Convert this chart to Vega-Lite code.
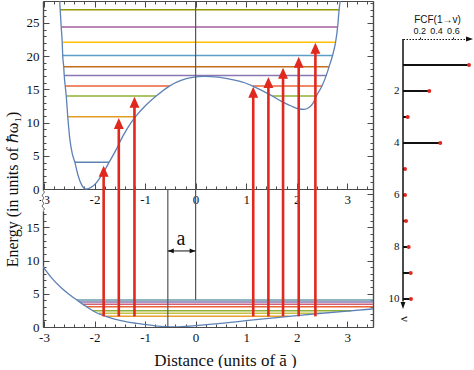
{
  "$schema": "https://vega.github.io/schema/vega-lite/v6.json",
  "background": "white",
  "padding": {"left": 4, "top": 0, "right": 0, "bottom": 0},
  "bounds": "flush",
  "spacing": 30,
  "config": {
    "view": {"stroke": null},
    "axis": {
      "grid": false,
      "domainColor": "#4a4a4a",
      "tickColor": "#4a4a4a",
      "domainWidth": 1.2,
      "tickWidth": 1,
      "labelFont": "Liberation Serif",
      "labelFontSize": 13,
      "labelColor": "#111111",
      "titleFont": "Liberation Serif",
      "titleFontWeight": "normal",
      "titleColor": "#111111",
      "labelFlush": false,
      "labelOverlap": false
    }
  },
  "datasets": {
    "upperCurve": [
      {"x": -2.69, "e": 28.3}, {"x": -2.68, "e": 27.0}, {"x": -2.66, "e": 24.4}, {"x": -2.64, "e": 22.1},
      {"x": -2.63, "e": 20.1}, {"x": -2.61, "e": 18.4}, {"x": -2.6, "e": 17.1}, {"x": -2.58, "e": 15.5},
      {"x": -2.56, "e": 14.0}, {"x": -2.53, "e": 10.9}, {"x": -2.49, "e": 7.6}, {"x": -2.44, "e": 5.3},
      {"x": -2.39, "e": 4.05}, {"x": -2.33, "e": 2.15}, {"x": -2.25, "e": 0.55}, {"x": -2.17, "e": 0.0},
      {"x": -2.07, "e": 0.25}, {"x": -1.97, "e": 0.9}, {"x": -1.87, "e": 1.95}, {"x": -1.71, "e": 4.05},
      {"x": -1.57, "e": 5.97}, {"x": -1.44, "e": 7.97}, {"x": -1.28, "e": 9.98}, {"x": -1.18, "e": 10.98},
      {"x": -1.0, "e": 12.5}, {"x": -0.78, "e": 14.0}, {"x": -0.52, "e": 15.5}, {"x": -0.29, "e": 16.35},
      {"x": -0.06, "e": 16.8}, {"x": 0.17, "e": 16.95}, {"x": 0.44, "e": 16.85}, {"x": 0.7, "e": 16.5},
      {"x": 0.97, "e": 16.0}, {"x": 1.13, "e": 15.5}, {"x": 1.46, "e": 14.25}, {"x": 1.69, "e": 13.24},
      {"x": 1.89, "e": 12.5}, {"x": 2.05, "e": 12.05}, {"x": 2.15, "e": 12.0}, {"x": 2.25, "e": 12.3},
      {"x": 2.33, "e": 13.0}, {"x": 2.39, "e": 14.0}, {"x": 2.5, "e": 15.5}, {"x": 2.58, "e": 17.0},
      {"x": 2.64, "e": 18.4}, {"x": 2.71, "e": 20.1}, {"x": 2.77, "e": 22.1}, {"x": 2.81, "e": 24.4},
      {"x": 2.84, "e": 27.0}, {"x": 2.86, "e": 28.3}
    ],
    "lowerCurve": [
      {"x": -3.02, "e": 9.1}, {"x": -2.85, "e": 7.4}, {"x": -2.66, "e": 5.9}, {"x": -2.5, "e": 4.9},
      {"x": -2.33, "e": 3.95}, {"x": -2.15, "e": 3.0}, {"x": -2.0, "e": 2.3}, {"x": -1.83, "e": 1.75},
      {"x": -1.67, "e": 1.35}, {"x": -1.5, "e": 1.0}, {"x": -1.34, "e": 0.75}, {"x": -1.17, "e": 0.55},
      {"x": -1.0, "e": 0.38}, {"x": -0.8, "e": 0.18}, {"x": -0.6, "e": 0.05}, {"x": -0.45, "e": 0.0},
      {"x": -0.2, "e": 0.08}, {"x": 0.0, "e": 0.2}, {"x": 0.5, "e": 0.55}, {"x": 1.0, "e": 0.95},
      {"x": 1.5, "e": 1.35}, {"x": 2.0, "e": 1.72}, {"x": 2.5, "e": 2.07}, {"x": 3.0, "e": 2.4},
      {"x": 3.51, "e": 2.72}
    ],
    "upperLevels": [
      {"n": 1, "e": 4.05, "x1": -2.39, "x2": -1.71},
      {"n": 2, "e": 10.9, "x1": -2.53, "x2": -1.19},
      {"n": 3, "e": 14.0, "x1": -2.56, "x2": -0.78},
      {"n": 3, "e": 14.0, "x1": 1.52, "x2": 2.39},
      {"n": 4, "e": 15.5, "x1": -2.58, "x2": -0.52},
      {"n": 4, "e": 15.5, "x1": 1.13, "x2": 2.5},
      {"n": 5, "e": 17.1, "x1": -2.6, "x2": 2.59},
      {"n": 6, "e": 18.4, "x1": -2.61, "x2": 2.64},
      {"n": 7, "e": 20.1, "x1": -2.63, "x2": 2.71},
      {"n": 8, "e": 22.1, "x1": -2.64, "x2": 2.77},
      {"n": 9, "e": 24.4, "x1": -2.66, "x2": 2.81},
      {"n": 10, "e": 27.0, "x1": -2.68, "x2": 2.84}
    ],
    "lowerLevels": [
      {"n": 1, "e": 1.6, "x1": -1.77, "x2": 1.84},
      {"n": 2, "e": 2.06, "x1": -1.92, "x2": 2.49},
      {"n": 3, "e": 2.45, "x1": -2.03, "x2": 3.08},
      {"n": 4, "e": 3.05, "x1": -2.16, "x2": 3.51},
      {"n": 5, "e": 3.41, "x1": -2.23, "x2": 3.51},
      {"n": 6, "e": 3.76, "x1": -2.29, "x2": 3.51},
      {"n": 7, "e": 4.06, "x1": -2.35, "x2": 3.51}
    ],
    "arrows": [
      {"x": -1.82, "e0": 1.6, "e1": 3.5},
      {"x": -1.52, "e0": 1.6, "e1": 10.7},
      {"x": -1.21, "e0": 1.6, "e1": 13.9},
      {"x": 1.14, "e0": 1.6, "e1": 15.4},
      {"x": 1.44, "e0": 1.6, "e1": 16.85},
      {"x": 1.73, "e0": 1.6, "e1": 18.25},
      {"x": 2.04, "e0": 1.6, "e1": 19.9},
      {"x": 2.37, "e0": 1.6, "e1": 22.0}
    ],
    "squiggle": [
      {"k": 0, "x": -3.02, "e": 20.6}, {"k": 1, "x": -2.975, "e": 20.2}, {"k": 2, "x": -3.065, "e": 19.8},
      {"k": 3, "x": -2.975, "e": 19.4}, {"k": 4, "x": -3.065, "e": 19.0}, {"k": 5, "x": -2.975, "e": 18.6},
      {"k": 6, "x": -3.065, "e": 18.2}, {"k": 7, "x": -2.975, "e": 17.8}, {"k": 8, "x": -3.02, "e": 17.5}
    ],
    "fcf": [
      {"v": 1, "f": 0.786}, {"v": 2, "f": 0.313}, {"v": 3, "f": 0.056}, {"v": 4, "f": 0.444},
      {"v": 5, "f": 0.024}, {"v": 6, "f": 0.024}, {"v": 7, "f": 0.036}, {"v": 8, "f": 0.068},
      {"v": 9, "f": 0.092}, {"v": 10, "f": 0.095}
    ],
    "fcfTicks": [{"t": 0.2}, {"t": 0.4}, {"t": 0.6}]
  },
  "hconcat": [
    {
      "width": 330,
      "height": 326,
      "resolve": {"scale": {"y": "independent", "color": "independent"}, "axis": {"x": "independent", "y": "independent"}},
      "layer": [
        {
          "data": {"name": "upperLevels"},
          "mark": {"type": "rule", "strokeWidth": 1.5},
          "encoding": {
            "x": {"field": "x1", "type": "quantitative", "scale": {"domain": [-3.02, 3.51], "nice": false, "zero": false},
              "axis": {"orient": "top", "values": [-3,-2.8,-2.6,-2.4,-2.2,-2,-1.8,-1.6,-1.4,-1.2,-1,-0.8,-0.6,-0.4,-0.2,0,0.2,0.4,0.6,0.8,1,1.2,1.4,1.6,1.8,2,2.2,2.4,2.6,2.8,3,3.2,3.4],
                "labels": false, "title": null,
                "tickSize": {"condition": {"test": "abs(datum.value-round(datum.value))<0.01", "value": -6}, "value": -3}}},
            "x2": {"field": "x2"},
            "y": {"field": "e", "type": "quantitative", "scale": {"domain": [-20.75, 28.3], "nice": false, "zero": false},
              "axis": {"orient": "right", "values": [0,1,2,3,4,5,6,7,8,9,10,11,12,13,14,15,16,17,18,19,20,21,22,23,24,25,26,27,28],
                "labels": false, "title": null,
                "tickSize": {"condition": {"test": "datum.value % 5 == 0", "value": -6}, "value": -3}}},
            "color": {"field": "n", "type": "ordinal", "legend": null,
              "scale": {"domain": [1,2,3,4,5,6,7,8,9,10], "range": ["#5E81B5","#E19C24","#8FB032","#EB6235","#8778B3","#C56E1A","#5D9EC7","#FFBF00","#A5609D","#929600"]}}
          }
        },
        {
          "data": {"name": "lowerLevels"},
          "mark": {"type": "rule", "strokeWidth": 1.5},
          "encoding": {
            "x": {"field": "x1", "type": "quantitative", "scale": {"domain": [-3.02, 3.51], "nice": false, "zero": false}, "axis": null},
            "x2": {"field": "x2"},
            "y": {"field": "e", "type": "quantitative", "scale": {"domain": [0, 49.05], "nice": false, "zero": false},
              "axis": {"orient": "right", "values": [0,1,2,3,4,5,6,7,8,9,10,11,12,13,14,15,16,17,18,19,20],
                "labels": false, "title": null,
                "tickSize": {"condition": {"test": "datum.value % 5 == 0", "value": -6}, "value": -3}}},
            "color": {"field": "n", "type": "ordinal", "legend": null,
              "scale": {"domain": [1,2,3,4,5,6,7], "range": ["#E8A030","#C8C040","#8FB032","#EB6235","#D0607A","#8778B3","#6A9CAA"]}}
          }
        },
        {
          "data": {"name": "upperCurve"},
          "mark": {"type": "line", "color": "#5E81B5", "strokeWidth": 1.3, "interpolate": "monotone", "clip": true},
          "encoding": {
            "x": {"field": "x", "type": "quantitative", "scale": {"domain": [-3.02, 3.51], "nice": false, "zero": false},
              "axis": {"orient": "bottom", "values": [-3,-2.8,-2.6,-2.4,-2.2,-2,-1.8,-1.6,-1.4,-1.2,-1,-0.8,-0.6,-0.4,-0.2,0,0.2,0.4,0.6,0.8,1,1.2,1.4,1.6,1.8,2,2.2,2.4,2.6,2.8,3,3.2,3.4],
                "labelExpr": "abs(datum.value-round(datum.value))<0.01 ? (datum.value<0 ? '-'+format(-datum.value,'d') : format(datum.value,'d')) : ''",
                "tickSize": {"condition": {"test": "abs(datum.value-round(datum.value))<0.01", "value": -6}, "value": -3},
                "labelPadding": 10,
                "title": "Distance (units of  ā )", "titleFontSize": 17, "titleX": 182, "titlePadding": 5}},
            "y": {"field": "e", "type": "quantitative", "scale": {"domain": [-20.75, 28.3], "nice": false, "zero": false},
              "axis": {"orient": "left", "values": [0,1,2,3,4,5,6,7,8,9,10,11,12,13,14,15,16,17,18,19,20,21,22,23,24,25,26,27],
                "labelExpr": "datum.value % 5 == 0 ? datum.label : ''",
                "tickSize": {"condition": {"test": "datum.value % 5 == 0", "value": -6}, "value": -3},
                "labelPadding": 10,
                "title": "Energy (in units of ℏω₁)", "titleFontSize": 16, "titleY": 188, "titlePadding": 6}}
          }
        },
        {
          "data": {"name": "lowerCurve"},
          "mark": {"type": "line", "color": "#5E81B5", "strokeWidth": 1.3, "interpolate": "monotone", "clip": true},
          "encoding": {
            "x": {"field": "x", "type": "quantitative", "scale": {"domain": [-3.02, 3.51], "nice": false, "zero": false},
              "axis": {"orient": "bottom", "offset": -138, "values": [-3,-2.8,-2.6,-2.4,-2.2,-2,-1.8,-1.6,-1.4,-1.2,-1,-0.8,-0.6,-0.4,-0.2,0,0.2,0.4,0.6,0.8,1,1.2,1.4,1.6,1.8,2,2.2,2.4,2.6,2.8,3,3.2,3.4],
                "labelExpr": "abs(datum.value-round(datum.value))<0.01 ? (datum.value<0 ? '-'+format(-datum.value,'d') : format(datum.value,'d')) : ''",
                "tickSize": {"condition": {"test": "abs(datum.value-round(datum.value))<0.01", "value": -6}, "value": -3},
                "labelPadding": 10, "title": null}},
            "y": {"field": "e", "type": "quantitative", "scale": {"domain": [0, 49.05], "nice": false, "zero": false},
              "axis": {"orient": "left", "values": [0,1,2,3,4,5,6,7,8,9,10,11,12,13,14,15,16,17],
                "labelExpr": "datum.value % 5 == 0 ? datum.label : ''",
                "tickSize": {"condition": {"test": "datum.value % 5 == 0", "value": -6}, "value": -3},
                "labelPadding": 10, "title": null}}
          }
        },
        {
          "data": {"values": [{}]},
          "mark": {"type": "rule", "color": "#555555", "strokeWidth": 1.2},
          "encoding": {
            "x": {"datum": 0, "type": "quantitative", "scale": {"domain": [-3.02, 3.51], "nice": false, "zero": false}, "axis": null},
            "y": {"datum": 0, "type": "quantitative", "scale": {"domain": [-20.75, 28.3], "nice": false, "zero": false}, "axis": null},
            "y2": {"datum": 28.3}
          }
        },
        {
          "data": {"values": [{}]},
          "mark": {"type": "rule", "color": "#555555", "strokeWidth": 1.2},
          "encoding": {
            "x": {"datum": 0, "type": "quantitative", "scale": {"domain": [-3.02, 3.51], "nice": false, "zero": false}, "axis": null},
            "y": {"datum": 4.06, "type": "quantitative", "scale": {"domain": [0, 49.05], "nice": false, "zero": false}, "axis": null},
            "y2": {"datum": 20.75}
          }
        },
        {
          "data": {"values": [{}]},
          "mark": {"type": "rule", "color": "#555555", "strokeWidth": 1.2},
          "encoding": {
            "x": {"datum": -0.55, "type": "quantitative", "scale": {"domain": [-3.02, 3.51], "nice": false, "zero": false}, "axis": null},
            "y": {"datum": 0, "type": "quantitative", "scale": {"domain": [0, 49.05], "nice": false, "zero": false}, "axis": null},
            "y2": {"datum": 20.75}
          }
        },
        {
          "data": {"name": "arrows"},
          "mark": {"type": "rule", "color": "#E0281E", "strokeWidth": 2.6},
          "encoding": {
            "x": {"field": "x", "type": "quantitative", "scale": {"domain": [-3.02, 3.51], "nice": false, "zero": false}, "axis": null},
            "y": {"field": "e0", "type": "quantitative", "scale": {"domain": [0, 49.05], "nice": false, "zero": false}, "axis": null},
            "y2": {"datum": 20.75}
          }
        },
        {
          "data": {"name": "arrows"},
          "mark": {"type": "rule", "color": "#E0281E", "strokeWidth": 2.6, "yOffset": 5},
          "encoding": {
            "x": {"field": "x", "type": "quantitative", "scale": {"domain": [-3.02, 3.51], "nice": false, "zero": false}, "axis": null},
            "y": {"field": "e1", "type": "quantitative", "scale": {"domain": [-20.75, 28.3], "nice": false, "zero": false}, "axis": null},
            "y2": {"datum": 0}
          }
        },
        {
          "data": {"name": "arrows"},
          "mark": {"type": "point", "shape": "M0,0L0.9,2L-0.9,2Z", "size": 121, "filled": true, "color": "#E0281E", "opacity": 1, "strokeWidth": 0},
          "encoding": {
            "x": {"field": "x", "type": "quantitative", "scale": {"domain": [-3.02, 3.51], "nice": false, "zero": false}, "axis": null},
            "y": {"field": "e1", "type": "quantitative", "scale": {"domain": [-20.75, 28.3], "nice": false, "zero": false}, "axis": null}
          }
        },
        {
          "data": {"values": [{}]},
          "mark": {"type": "rule", "color": "#111111", "strokeWidth": 1},
          "encoding": {
            "x": {"datum": -0.55, "type": "quantitative", "scale": {"domain": [-3.02, 3.51], "nice": false, "zero": false}, "axis": null},
            "x2": {"datum": 0},
            "y": {"datum": 11.44, "type": "quantitative", "scale": {"domain": [0, 49.05], "nice": false, "zero": false}, "axis": null}
          }
        },
        {
          "data": {"values": [{}]},
          "mark": {"type": "point", "shape": "M0,0L2,-0.8L2,0.8Z", "size": 36, "filled": true, "color": "#111111", "opacity": 1, "strokeWidth": 0},
          "encoding": {
            "x": {"datum": -0.55, "type": "quantitative", "scale": {"domain": [-3.02, 3.51], "nice": false, "zero": false}, "axis": null},
            "y": {"datum": 11.44, "type": "quantitative", "scale": {"domain": [0, 49.05], "nice": false, "zero": false}, "axis": null}
          }
        },
        {
          "data": {"values": [{}]},
          "mark": {"type": "point", "shape": "M0,0L-2,-0.8L-2,0.8Z", "size": 36, "filled": true, "color": "#111111", "opacity": 1, "strokeWidth": 0},
          "encoding": {
            "x": {"datum": 0, "type": "quantitative", "scale": {"domain": [-3.02, 3.51], "nice": false, "zero": false}, "axis": null},
            "y": {"datum": 11.44, "type": "quantitative", "scale": {"domain": [0, 49.05], "nice": false, "zero": false}, "axis": null}
          }
        },
        {
          "data": {"values": [{}]},
          "mark": {"type": "text", "text": "a", "font": "Liberation Serif", "fontSize": 20, "color": "#111111", "align": "center", "baseline": "middle"},
          "encoding": {
            "x": {"datum": -0.29, "type": "quantitative", "scale": {"domain": [-3.02, 3.51], "nice": false, "zero": false}, "axis": null},
            "y": {"datum": 13.2, "type": "quantitative", "scale": {"domain": [0, 49.05], "nice": false, "zero": false}, "axis": null}
          }
        },
        {
          "data": {"values": [{}]},
          "mark": {"type": "rule", "color": "white", "strokeWidth": 4},
          "encoding": {
            "x": {"datum": -3.02, "type": "quantitative", "scale": {"domain": [-3.02, 3.51], "nice": false, "zero": false}, "axis": null},
            "y": {"datum": 17.4, "type": "quantitative", "scale": {"domain": [0, 49.05], "nice": false, "zero": false}, "axis": null},
            "y2": {"datum": 20.6}
          }
        },
        {
          "data": {"name": "squiggle"},
          "mark": {"type": "line", "color": "#4a4a4a", "strokeWidth": 1, "interpolate": "basis"},
          "encoding": {
            "x": {"field": "x", "type": "quantitative", "scale": {"domain": [-3.02, 3.51], "nice": false, "zero": false}, "axis": null},
            "y": {"field": "e", "type": "quantitative", "scale": {"domain": [0, 49.05], "nice": false, "zero": false}, "axis": null},
            "order": {"field": "k", "type": "quantitative"}
          }
        }
      ]
    },
    {
      "width": 68,
      "height": 330,
      "layer": [
        {
          "data": {"name": "fcf"},
          "mark": {"type": "rule", "color": "#111111", "strokeWidth": 2},
          "encoding": {
            "x": {"field": "f", "type": "quantitative", "scale": {"domain": [0, 0.81], "nice": false, "zero": false},
              "axis": {"orient": "top", "offset": -38, "values": [0.2, 0.4, 0.6], "labels": false, "tickSize": 2,
                "domainDash": [1.5, 1.5], "domainColor": "#111111", "tickColor": "#111111",
                "title": "FCF(1→v)", "titleFont": "Liberation Sans", "titleFontSize": 10, "titlePadding": 12}},
            "x2": {"datum": 0},
            "y": {"field": "v", "type": "quantitative", "scale": {"domain": [-1.4615, 11.2308], "nice": false, "zero": false, "reverse": true},
              "axis": {"orient": "left", "values": [2, 4, 6, 8, 10], "domain": false, "ticks": false, "labelPadding": 4,
                "labelFontSize": 11, "title": null}}
          }
        },
        {
          "data": {"name": "fcf"},
          "mark": {"type": "circle", "color": "#E0281E", "size": 16, "opacity": 1},
          "encoding": {
            "x": {"field": "f", "type": "quantitative"},
            "y": {"field": "v", "type": "quantitative"}
          }
        },
        {
          "data": {"name": "fcfTicks"},
          "mark": {"type": "text", "font": "Liberation Sans", "fontSize": 9, "color": "#111111", "align": "center", "baseline": "middle"},
          "encoding": {
            "x": {"field": "t", "type": "quantitative"},
            "y": {"datum": -0.3, "type": "quantitative"},
            "text": {"field": "t", "type": "quantitative", "format": ".1f"}
          }
        },
        {
          "data": {"values": [{}]},
          "mark": {"type": "rule", "color": "#111111", "strokeWidth": 1.5},
          "encoding": {
            "x": {"datum": 0, "type": "quantitative"},
            "y": {"datum": 0, "type": "quantitative"},
            "y2": {"datum": 10.1}
          }
        },
        {
          "data": {"values": [{}]},
          "mark": {"type": "point", "shape": "M0,0L-0.7,-2L0.7,-2Z", "size": 49, "filled": true, "color": "#111111", "opacity": 1, "strokeWidth": 0},
          "encoding": {
            "x": {"datum": 0, "type": "quantitative"},
            "y": {"datum": 10.38, "type": "quantitative"}
          }
        },
        {
          "data": {"values": [{}]},
          "mark": {"type": "point", "shape": "M0,0L-2,-0.7L-2,0.7Z", "size": 49, "filled": true, "color": "#111111", "opacity": 1, "strokeWidth": 0},
          "encoding": {
            "x": {"datum": 0.834, "type": "quantitative"},
            "y": {"datum": 0, "type": "quantitative"}
          }
        },
        {
          "data": {"values": [{}]},
          "mark": {"type": "text", "text": "ν", "font": "Liberation Serif", "fontSize": 13, "angle": 90, "color": "#111111", "align": "center", "baseline": "middle"},
          "encoding": {
            "x": {"datum": 0.02, "type": "quantitative"},
            "y": {"datum": 10.77, "type": "quantitative"}
          }
        }
      ]
    }
  ]
}
